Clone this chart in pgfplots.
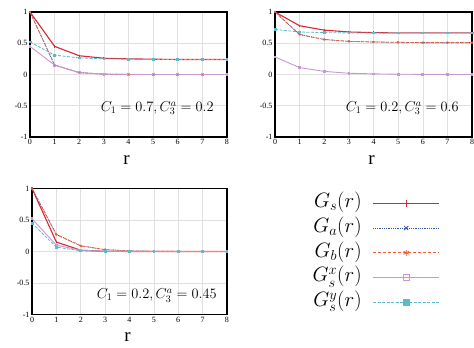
\documentclass[border=0pt]{standalone}
\usepackage{fontspec}
\setmainfont{Liberation Serif}
\usepackage{pgfplots}
\pgfplotsset{compat=1.18}
\definecolor{gsred}{RGB}{218,38,52}
\definecolor{gablue}{RGB}{55,85,165}
\definecolor{gborange}{RGB}{235,95,55}
\definecolor{gspink}{RGB}{200,150,210}
\definecolor{gscyan}{RGB}{95,185,205}
\pgfplotsset{
  panel/.style={scale only axis, width=197pt, height=125pt, anchor=south west,
    xmin=0, xmax=8, ymin=-1, ymax=1,
    xtick={0,1,...,8}, ytick={-1,-0.5,0,0.5,1},
    yticklabels={{-1},{-0.5},{0},{0.5},{1}},
    grid=major, grid style={black!12, line width=0.5pt},
    axis line style={line width=1.2pt},
    major tick length=0pt,
    tick label style={font=\fontsize{8}{9}\selectfont},
    /pgf/number format/assume math mode=true,
    xlabel={r}, xlabel style={font=\fontsize{19}{20}\selectfont, at={(axis description cs:0.49,0)}, anchor=center, yshift=-23pt},
    yticklabel style={xshift=1pt}, xticklabel style={yshift=1pt},
  },
  sGs/.style={color=gsred, solid, line width=1.1pt, mark=|, mark size=1.2pt, mark options={solid}},
  sGa/.style={color=gablue, densely dotted, line width=0.8pt, mark=x, mark size=1pt, mark options={solid}},
  sGb/.style={color=gborange, dash pattern=on 3pt off 2pt, line width=0.8pt, mark=asterisk, mark size=1pt, mark options={solid}},
  sGx/.style={color=gspink, solid, line width=0.9pt, mark=square, mark size=0.9pt, mark options={solid}},
  sGy/.style={color=gscyan, dash pattern=on 3pt off 1.5pt, line width=0.8pt, mark=square*, mark size=0.9pt, mark options={solid}},
  legend image code/.code={\draw[mark repeat=2,mark phase=2,#1] plot coordinates {(0pt,0pt) (33pt,0pt) (66pt,0pt)};},
}
\begin{document}
\begin{tikzpicture}
\useasboundingbox (0,0) rectangle (474pt,348pt);
% Panel 1
\begin{axis}[panel, at={(30pt,211pt)}]
\addplot[sGs] coordinates {(0,1) (1,0.45) (2,0.30) (3,0.26) (4,0.25) (5,0.245) (6,0.24) (7,0.24) (8,0.24)};
\addplot[sGa] coordinates {(0,1) (1,0.15) (2,0.03) (3,0.006) (4,0.001) (5,0) (6,0) (7,0) (8,0)};
\addplot[sGb] coordinates {(0,1) (1,0.15) (2,0.03) (3,0.006) (4,0.001) (5,0) (6,0) (7,0) (8,0)};
\addplot[sGx] coordinates {(0,0.45) (1,0.15) (2,0.03) (3,0.006) (4,0.001) (5,0) (6,0) (7,0) (8,0)};
\addplot[sGy] coordinates {(0,0.52) (1,0.31) (2,0.265) (3,0.25) (4,0.245) (5,0.24) (6,0.24) (7,0.24) (8,0.24)};
\node[anchor=east, font=\fontsize{14.5}{16}\selectfont] at (rel axis cs:0.95,0.23) {$C_1=0.7, C_3^a=0.2$};
\end{axis}
% Panel 2
\begin{axis}[panel, at={(275pt,211pt)}]
\addplot[sGs] coordinates {(0,1) (1,0.78) (2,0.71) (3,0.68) (4,0.67) (5,0.665) (6,0.665) (7,0.665) (8,0.665)};
\addplot[sGa] coordinates {(0,1) (1,0.64) (2,0.56) (3,0.53) (4,0.52) (5,0.515) (6,0.51) (7,0.51) (8,0.51)};
\addplot[sGb] coordinates {(0,1) (1,0.64) (2,0.56) (3,0.53) (4,0.52) (5,0.515) (6,0.51) (7,0.51) (8,0.51)};
\addplot[sGx] coordinates {(0,0.28) (1,0.11) (2,0.05) (3,0.02) (4,0.01) (5,0.005) (6,0.002) (7,0.001) (8,0)};
\addplot[sGy] coordinates {(0,0.72) (1,0.68) (2,0.67) (3,0.665) (4,0.665) (5,0.665) (6,0.665) (7,0.665) (8,0.665)};
\node[anchor=east, font=\fontsize{14.5}{16}\selectfont] at (rel axis cs:0.95,0.23) {$C_1=0.2, C_3^a=0.6$};
\end{axis}
% Panel 3
\begin{axis}[panel, at={(32pt,33.5pt)}, width=195pt, height=126pt,
  legend style={at={(rel axis cs:2.092,0.49)}, anchor=east, draw=none, fill=none,
    inner sep=0pt, column sep=11pt, row sep=3.7pt,
    nodes={inner sep=0pt, text height=15pt, text depth=6pt},
    font=\fontsize{21}{22}\selectfont},
  legend cell align=right, legend plot pos=right]
\addplot[sGs, forget plot] coordinates {(0,1) (1,0.15) (2,0.02) (3,0.003) (4,0) (5,0) (6,0) (7,0) (8,0)};
\addplot[sGa, forget plot] coordinates {(0,1) (1,0.27) (2,0.09) (3,0.03) (4,0.01) (5,0.004) (6,0.001) (7,0) (8,0)};
\addplot[sGb, forget plot] coordinates {(0,1) (1,0.27) (2,0.09) (3,0.03) (4,0.01) (5,0.004) (6,0.001) (7,0) (8,0)};
\addplot[sGx, forget plot] coordinates {(0,0.52) (1,0.10) (2,0.02) (3,0.004) (4,0) (5,0) (6,0) (7,0) (8,0)};
\addplot[sGy, forget plot] coordinates {(0,0.45) (1,0.07) (2,0.01) (3,0.002) (4,0) (5,0) (6,0) (7,0) (8,0)};
\node[anchor=east, font=\fontsize{14.5}{16}\selectfont] at (rel axis cs:0.965,0.15) {$C_1=0.2, C_3^a=0.45$};
\addlegendimage{sGs, mark size=3.5pt}
\addlegendentry{$G_s(r)$}
\addlegendimage{sGa, mark size=3pt}
\addlegendentry{$G_a(r)$}
\addlegendimage{sGb, mark size=3pt}
\addlegendentry{$G_b(r)$}
\addlegendimage{sGx, mark size=3pt}
\addlegendentry{$G_s^x(r)$}
\addlegendimage{sGy, mark size=3pt}
\addlegendentry{$G_s^y(r)$}
\end{axis}
\end{tikzpicture}
\end{document}
